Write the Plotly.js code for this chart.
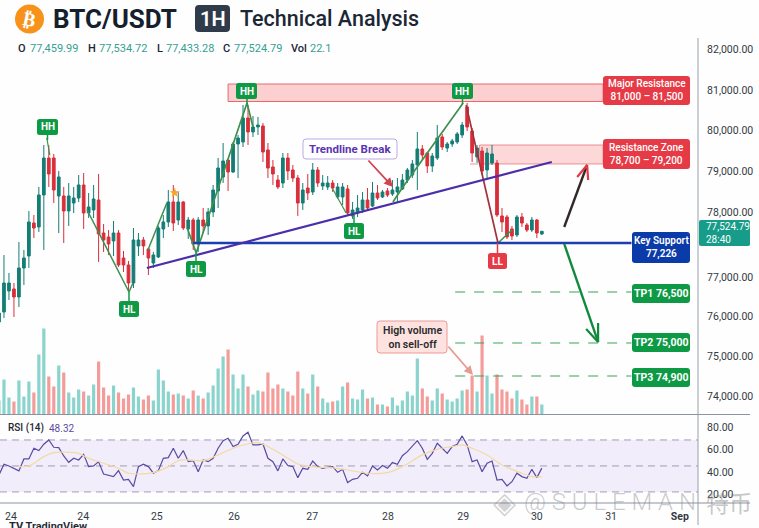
<!DOCTYPE html>
<html><head><meta charset="utf-8">
<script src="https://cdn.plot.ly/plotly-3.0.1.min.js"></script>
<style>html,body{margin:0;padding:0;background:#fff}#c{width:759px;height:528px}</style></head>
<body><div id="c"></div>
<script>
const opens=[75294,75540,76057,76106,75909,76622,76918,77729,77631,78418,
79328,79328,78394,78394,78025,78221,78344,78664,77975,78049,
78295,77483,77385,77287,77483,76868,76696,76253,77164,77311,
77090,76745,76893,77582,77754,78246,77803,78246,77582,77803,
77213,77803,77656,78000,78517,78861,79279,78984,79673,79722,
80312,79968,80091,80116,79525,79107,78787,78713,79328,79033,
78836,78221,78590,78492,79033,78640,78615,78713,78369,78369,
78566,77902,77975,78049,78295,78148,78467,78369,78517,78443,
78492,78566,78787,78910,79156,79550,79451,79132,79328,79845,
79574,79673,79722,79894,80583,79993,79353,79501,79033,79205,
79205,77902,77877,77582,77434,77877,77680,77557,77803,77459.99];
const highs=[75589,76942,76499,76253,77262,77065,78025,77926,78615,79648,
79648,79427,79009,78615,78713,78615,78910,78959,78467,78664,
78935,77705,77557,77779,77557,77041,76795,77606,77483,77385,
77114,77016,77656,77926,78541,78664,78492,78271,77877,77852,
77877,78098,78098,78664,79328,79697,79279,79722,79894,80632,
80632,80362,80337,80189,79697,79279,78910,79451,79451,79156,
78910,78713,78935,79205,79107,78910,78886,78787,78713,78713,
78664,78246,78418,78492,78590,78738,78664,78541,78590,78787,
78836,78935,79082,79279,79968,79648,79476,79451,80140,79919,
79722,79796,79968,80214,80681,80066,79648,79599,79574,79648,
79279,78098,77926,77656,77926,77975,77729,77877,77828,77534.72];
const lows=[75171,75392,75835,75417,75663,76204,76622,77360,77508,77065,
78615,78221,77483,77237,77656,77975,78246,77582,77852,77852,
76770,77016,76942,76918,76647,76524,76032,76130,76918,76942,
76450,76622,76868,77360,77631,77533,77680,77557,77336,77065,
77016,77483,77434,77877,78098,78713,78517,78959,78836,79599,
79648,79845,79894,79230,78836,78664,78566,78590,78787,78738,
77902,78049,78295,78418,78615,78541,78541,78492,78320,78172,
77902,77828,77877,77975,78049,78123,78295,78344,78369,78394,
78246,78541,78713,78836,78541,79279,78959,78984,79279,79525,
79476,79599,79673,79820,79993,79230,79205,78910,78836,79156,
77877,77508,77336,77311,77385,77631,77508,77508,77360,77433.28];
const closes=[75515,76253,76253,75909,76622,76868,77754,77606,78418,79328,
78935,78541,78861,78025,78394,78344,78664,77975,78123,78320,
77459,77311,77213,77483,76696,76696,76253,77311,77311,77164,
76868,76942,77606,77754,78246,77729,78246,77606,77803,77213,
77803,77656,78000,78541,79082,79255,78984,79673,79820,80312,
79968,80091,80140,79476,79082,78935,78615,79328,79009,78836,
78221,78541,78467,79033,78713,78713,78713,78590,78615,78615,
77975,78049,78098,78295,78098,78467,78344,78492,78418,78541,
78615,78787,79033,79181,79550,79402,79132,79378,79820,79599,
79673,79747,79919,80140,80091,79451,79574,79009,79451,79427,
77926,77754,77385,77410,77877,77729,77557,77803,77483,77524.79];
const volumes=[14,35,17,13,34,18,33,22,60,86,
38,28,49,42,22,17,25,23,19,30,
53,27,19,29,22,16,20,27,18,15,
19,14,45,34,23,20,21,19,16,24,
19,16,22,29,46,58,65,40,26,40,
28,20,24,23,42,26,30,26,23,19,
43,26,21,40,28,16,12,13,14,28,
32,16,15,25,16,17,10,10,8,17,
9,14,23,19,56,26,18,14,26,21,
15,13,16,24,25,39,23,79,39,21,
40,25,23,16,24,15,10,18,18,10];
const rsi=[43.1,51.3,50,48.2,46.2,55.4,55.4,63.6,61.8,66.7,
70,64.4,64.1,57.7,52.8,55.9,54.6,59,49.5,50,
53.3,43.8,42.6,41.8,46.4,39.2,39.7,34.1,49.5,51.3,
49.5,44.4,46.4,55.9,56.4,63.6,55.9,61.8,53.3,54.1,
45.6,54.6,53.3,55.9,63.6,69.5,71.3,64.9,66.7,73.1,
75.9,66.2,66.2,66.9,55.9,53.3,46.2,55.4,50.3,49.5,
41,48.2,47.4,53.8,49.5,48.2,49,49.5,45.1,47.4,
37.2,39.7,40.5,45.1,42.3,50,46.9,50.3,48.2,52.6,
51.3,57.9,61,64.9,69.5,63.6,55.1,59.7,67.4,63.6,
59.7,64.9,66.7,73.1,66.2,53.3,54.6,45.6,52.1,53.8,
39.2,39.7,34.6,37.9,44.4,41.8,40.5,47.4,41,48.32];
const rsiMaIndex=[4,6,9,11,14,16,18,21,24,26,28,31,34,36,38,41,44,47,50,52,55,58,60,64,67,70,74,78,81,85,88,91,93,95,98,101,105,107,109];
const rsiMaValue=[49.5,50,57.2,60.3,60.5,59.7,55.9,52.1,48.2,44.4,43.8,44.9,49.5,54.1,54.6,54.1,58.5,63.6,66.9,67.9,62.8,55.9,51.5,49,48.5,46.9,44.4,44.9,49.5,58.5,62.8,64.9,66.2,63.6,58.5,50.8,44.4,41.8,41.8];
const dayTickIndex=[2.4,16.9,31.7,47.2,62.9,78.1,93.2,108,122.9,136.7];
const dayTickText=['24','24','25','26','27','28','29','30','31','<b>Sep</b>'];
const upperPriceTicks=[78000,79000,80000,81000,82000];
const lowerPriceTicks=[74000,75000,76000,77000];
const rsiTicks=[20,40,60,80];
const trendX=[29.7,111], trendY=[76622,79230];
const supportX=[39,127], supportY=[77237,77237];
const tp1Y=[76622,76622], tp2Y=[75337,75337], tp3Y=[74505,74505], tpX=[91.6,127];
const headerLabels=['O','H','L','C','Vol'];
const headerValues=['77,459.99','77,534.72','77,433.28','77,524.79','22.1'];

const W=698,H=528;
const px=x=>x/W, py=y=>1-y/H;
const G='#0e9a45',R='#e63a46';
const up='#147d76',dn='#d92f3b';
const xs=opens.map((_,i)=>i);
const volColors=xs.map(i=>closes[i]>=opens[i]?'#8ad4cd':'#f49c9a');
const legColor='#3f8f4e';

function line(x,y,color,width,yaxis,dash){return {type:'scatter',mode:'lines',x,y,xaxis:'x',yaxis:yaxis||'y',hoverinfo:'skip',showlegend:false,line:{color,width,dash:dash||'solid'}};}
const traces=[
 {type:'bar',x:xs,y:volumes,xaxis:'x',yaxis:'y2',marker:{color:volColors,line:{width:0}},hoverinfo:'skip',showlegend:false},
 {type:'candlestick',x:xs,open:opens,high:highs,low:lows,close:closes,xaxis:'x',yaxis:'y',whiskerwidth:0,hoverinfo:'skip',showlegend:false,
  increasing:{line:{color:up,width:1},fillcolor:up},decreasing:{line:{color:dn,width:1},fillcolor:dn}},
 line([17.7,26.1,26.9],[78049,76032,76253],legColor,1.5),
 line([29.9,33.7],[77065,78221],legColor,1.5),
 line([37.8,39.6,49.8,51],[77606,76991,80681,80091],legColor,1.7),
 line([9.6,10.2],[79820,79402],legColor,1.2),
 line([66.9,69.7],[78590,77975],legColor,1.2),
 line([79.1,81.1,93.2],[78246,78615,80681],legColor,1.7),
 line([93.8,100.2],[80632,77237],'#a3323c',1.7),
 line([100.2,103],[77237,77557],legColor,1.5),
 line(supportX,supportY,'#1c3fae',2.6),
 line(trendX,trendY,'#4a2eaa',2.2),
 line(tpX,tp1Y,'#3aa25a',1,'y3','10px,9px'),
 line(tpX,tp2Y,'#3aa25a',1,'y3','10px,9px'),
 line(tpX,tp3Y,'#3aa25a',1,'y3','10px,9px'),
 line([113.5,118.1],[77631,79156],'#33282a',2.4),
 line([116.1,118.1,118.3],[78861,79156,78787],'#e03a45',2.2),
 line([113.5,120.3],[77213,74802],'#128a3e',2.4),
 line([117.9,120.3,120.3],[75122,74802,75269],'#128a3e',2.2),
 line(xs,rsi,'#5a4aa3',1.2,'y4'),
 {type:'scatter',mode:'lines',x:rsiMaIndex,y:rsiMaValue,xaxis:'x',yaxis:'y4',line:{color:'#f4d9a2',width:1.2,shape:'spline'},hoverinfo:'skip',showlegend:false},
 {type:'scatter',mode:'none',x:[0],y:[50],xaxis:'x',yaxis:'y5',hoverinfo:'skip',showlegend:false}
];

function rr(x0,y0,x1,y1,r,fill,border){
 const X=px,Y=py;const rx=r/W,ry=r/H;
 const path=`M${X(x0)+rx},${Y(y0)} L${X(x1)-rx},${Y(y0)} Q${X(x1)},${Y(y0)} ${X(x1)},${Y(y0)-ry} L${X(x1)},${Y(y1)+ry} Q${X(x1)},${Y(y1)} ${X(x1)-rx},${Y(y1)} L${X(x0)+rx},${Y(y1)} Q${X(x0)},${Y(y1)} ${X(x0)},${Y(y1)+ry} L${X(x0)},${Y(y0)-ry} Q${X(x0)},${Y(y0)} ${X(x0)+rx},${Y(y0)} Z`;
 return {type:'path',path,xref:'paper',yref:'paper',fillcolor:fill,line:border?{color:border,width:1}:{width:0},layer:'above'};
}
function seg(x0,y0,x1,y1,color,width,layer){return {type:'line',xref:'paper',yref:'paper',x0:px(x0),x1:px(x1),y0:py(y0),y1:py(y1),line:{color,width},layer:layer||'above'};}
const shapes=[
 {type:'rect',xref:'paper',x0:0,x1:1,yref:'y4',y0:30,y1:70,fillcolor:'#f1edfb',line:{width:0},layer:'below'},
 {type:'line',xref:'paper',x0:0,x1:1,yref:'y4',y0:70,y1:70,line:{color:'#8d87a3',width:.8,dash:'7px,5px'},layer:'below'},
 {type:'line',xref:'paper',x0:0,x1:1,yref:'y4',y0:50,y1:50,line:{color:'#8d87a3',width:.8,dash:'7px,5px'},layer:'below'},
 {type:'line',xref:'paper',x0:0,x1:1,yref:'y4',y0:30,y1:30,line:{color:'#8d87a3',width:.8,dash:'7px,5px'},layer:'below'},
 {type:'rect',xref:'x',yref:'y',x0:46,x1:121.3,y0:80718,y1:81148,fillcolor:'rgba(251,190,190,.72)',line:{color:'#e8686c',width:1},layer:'below'},
 {type:'rect',xref:'x',yref:'y',x0:96.5,x1:121.3,y0:79181,y1:79648,fillcolor:'rgba(251,200,200,.7)',line:{color:'#e8787c',width:.8},layer:'below'},
 seg(470,164,478,164,'#e8787c',.8),
 seg(698,38,698,525,'#97a0ad',1),
 seg(0,414.5,750,414.5,'#8b94a2',1),
 seg(0,503,750,503,'#8b94a2',1),
 seg(47.5,135,47.5,140,G,1.5), seg(129,292,129,301,G,1.5), seg(196,253,196,261,G,1.5), seg(354,215,354,223,G,1.5),
 seg(247,99,247,104,G,1.5), seg(462.5,99,462.5,104,G,1.5), seg(497.5,243,497.5,253,R,1.5),
 rr(37,119,58,135,2.5,G), rr(236,83,257,99,2.5,G), rr(452,83,473,99,2.5,G),
 rr(119,301,139,317,2.5,G), rr(186,261,206,277,2.5,G), rr(344,223,364,239,2.5,G), rr(488,253,507,269,2.5,R),
 rr(603,76,690,105,3,R), rr(603,139,690,169,3,R), rr(632,232,690,263,3,'#0b3ba8'),
 rr(632,284,690,303,3,G), rr(632,333,690,352,3,G), rr(632,368,690,387,3,G),
 rr(303,139,397,159,3,'#fff','#bba9e8'), rr(377,321,447,353,3,'#fde2e0','#ec9a94'),
 rr(699,220,750,246,2,'#179c8a'),
 rr(195,5,230,32,4,'#2f3b4b'),
 {type:'circle',xref:'paper',yref:'paper',x0:px(15),x1:px(44),y0:py(33.5),y1:py(4.5),fillcolor:'#f7931a',line:{width:0},layer:'above'},
];
function tx(x,y,text,size,color,opt){return Object.assign({xref:'paper',yref:'paper',x:px(x),y:py(y),text,showarrow:false,xanchor:'center',yanchor:'middle',font:{family:'Roboto, sans-serif',size,color,weight:(opt&&opt.w)||400}},opt&&opt.o||{});}
const L={xanchor:'left'};
const headerLabelX=[16,86,155,221,289], headerValueX=[28,97,164,232,308];
const annotations=[
 tx(29.5,19,'₿',19,'#fff',{w:700,o:{textangle:12,font:{family:'DejaVu Sans',size:19,color:'#fff',weight:700}}}),
 tx(51,19,'BTC/USDT',26,'#15202e',{w:700,o:L}),
 tx(212.5,18.5,'1H',20,'#fff',{w:600}),
 tx(238,18.5,'Technical Analysis',21.5,'#1c2735',{w:500,o:L}),
 ...headerLabels.map((t,i)=>tx(headerLabelX[i],48,t,11,'#1d2733',{w:500,o:L})),
 ...headerValues.map((t,i)=>tx(headerValueX[i],48,t,11,'#35a093',{o:L})),
 tx(47.5,127,'HH',10,'#fff',{w:700}),tx(246.5,91,'HH',10,'#fff',{w:700}),tx(462.5,91,'HH',10,'#fff',{w:700}),
 tx(129,309,'HL',10,'#fff',{w:700}),tx(196,269,'HL',10,'#fff',{w:700}),tx(354,231,'HL',10,'#fff',{w:700}),tx(497.5,261,'LL',10,'#fff',{w:700}),
 tx(175,193,'★',13,'#f5a623'),
 tx(350,149,'Trendline Break',11.5,'#5b35b0',{w:700}),
 {xref:'paper',yref:'paper',x:px(393),y:py(187),ax:-26,ay:-28,text:'',showarrow:true,arrowhead:2,arrowsize:1,arrowwidth:1.8,arrowcolor:'#d2434f'},
 tx(412,337,'High volume<br>on sell-off',10.5,'#2a2a2a',{w:600}),
 {xref:'paper',yref:'paper',x:px(473),y:py(375),ax:-26,ay:-30,text:'',showarrow:true,arrowhead:2,arrowsize:1,arrowwidth:1.8,arrowcolor:'#e79a90'},
 tx(646.5,90.5,'Major Resistance<br>81,000 – 81,500',10,'#fff',{w:500}),
 tx(646.5,154,'Resistance Zone<br>78,700 – 79,200',10,'#fff',{w:500}),
 tx(661,247.5,'Key Support<br>77,226',10,'#fff',{w:600}),
 tx(661,293.5,'TP1 76,500',10.5,'#fff',{w:700}),
 tx(661,342.5,'TP2 75,000',10.5,'#fff',{w:700}),
 tx(661,377.5,'TP3 74,900',10.5,'#fff',{w:700}),
 tx(704,233,'77,524.79<br>28:40',10,'#fff',{o:{xanchor:'left',align:'left'}}),
 tx(6,428,'RSI (14)',10,'#1d2733',{w:500,o:L}),
 tx(47,428,'48.32',10,'#5a4aa3',{o:L}),
 tx(7,526,'<b>TV</b> TradingView',11,'#1d2733',{w:600,o:L}),
 tx(491,502,'◈',30,'rgba(130,130,130,.35)',{o:{xanchor:'left',font:{family:'DejaVu Sans',size:30,color:'rgba(130,130,130,.35)'}}}),
 tx(522,502,'@ S U L E M A N',24,'rgba(130,130,130,.42)',{w:300,o:L}),
 tx(704,502,'特币',23,'rgba(130,130,130,.45)',{o:{xanchor:'left',font:{family:'Noto Sans CJK SC',size:23,color:'rgba(130,130,130,.45)'}}})
];
const labelFont={family:'Roboto, sans-serif',size:10.5,color:'#333a44'};
const priceDomain=[1-414.5/H,1-38/H], rsiDomain=[1-503/H,1-415/H];
const layout={
 width:759,height:528,margin:{l:0,r:61,t:0,b:0,pad:0},paper_bgcolor:'#fefefe',plot_bgcolor:'#fefefe',showlegend:false,bargap:.36,boxgap:.22,dragmode:false,
 xaxis:{anchor:'y4',domain:[0,1],range:[0.2,140.36],type:'linear',tickmode:'array',tickvals:dayTickIndex,ticktext:dayTickText,ticks:'outside',ticklen:3,tickcolor:'rgba(0,0,0,0)',tickfont:{family:'Roboto, sans-serif',size:10.5,color:'#333a44'},showgrid:false,zeroline:false,showline:false,rangeslider:{visible:false},fixedrange:true},
 yaxis:{domain:priceDomain,range:[73018,82280],side:'right',anchor:'x',tickmode:'array',tickvals:upperPriceTicks,tickformat:',.2f',ticks:'outside',ticklen:6,tickcolor:'rgba(0,0,0,0)',tickfont:labelFont,showgrid:false,zeroline:false,showline:false,fixedrange:true},
 yaxis2:{overlaying:'y',range:[0,376.5],visible:false,fixedrange:true},
 yaxis3:{overlaying:'y',range:[73535,83023],side:'right',anchor:'x',tickmode:'array',tickvals:lowerPriceTicks,tickformat:',.2f',ticks:'outside',ticklen:6,tickcolor:'rgba(0,0,0,0)',tickfont:labelFont,showgrid:false,zeroline:false,showline:false,fixedrange:true},
 yaxis4:{domain:rsiDomain,range:[21.5,89.2],side:'right',anchor:'x',showticklabels:false,ticks:'',showgrid:false,zeroline:false,showline:false,fixedrange:true},
 yaxis5:{overlaying:'y4',range:[12.4,90.7],side:'right',anchor:'x',tickmode:'array',tickvals:rsiTicks,tickformat:'.2f',ticks:'outside',ticklen:6,tickcolor:'rgba(0,0,0,0)',tickfont:labelFont,showgrid:false,zeroline:false,showline:false,fixedrange:true},
 shapes,annotations
};
Plotly.newPlot('c',traces,layout,{displayModeBar:false,staticPlot:true});
</script></body></html>
